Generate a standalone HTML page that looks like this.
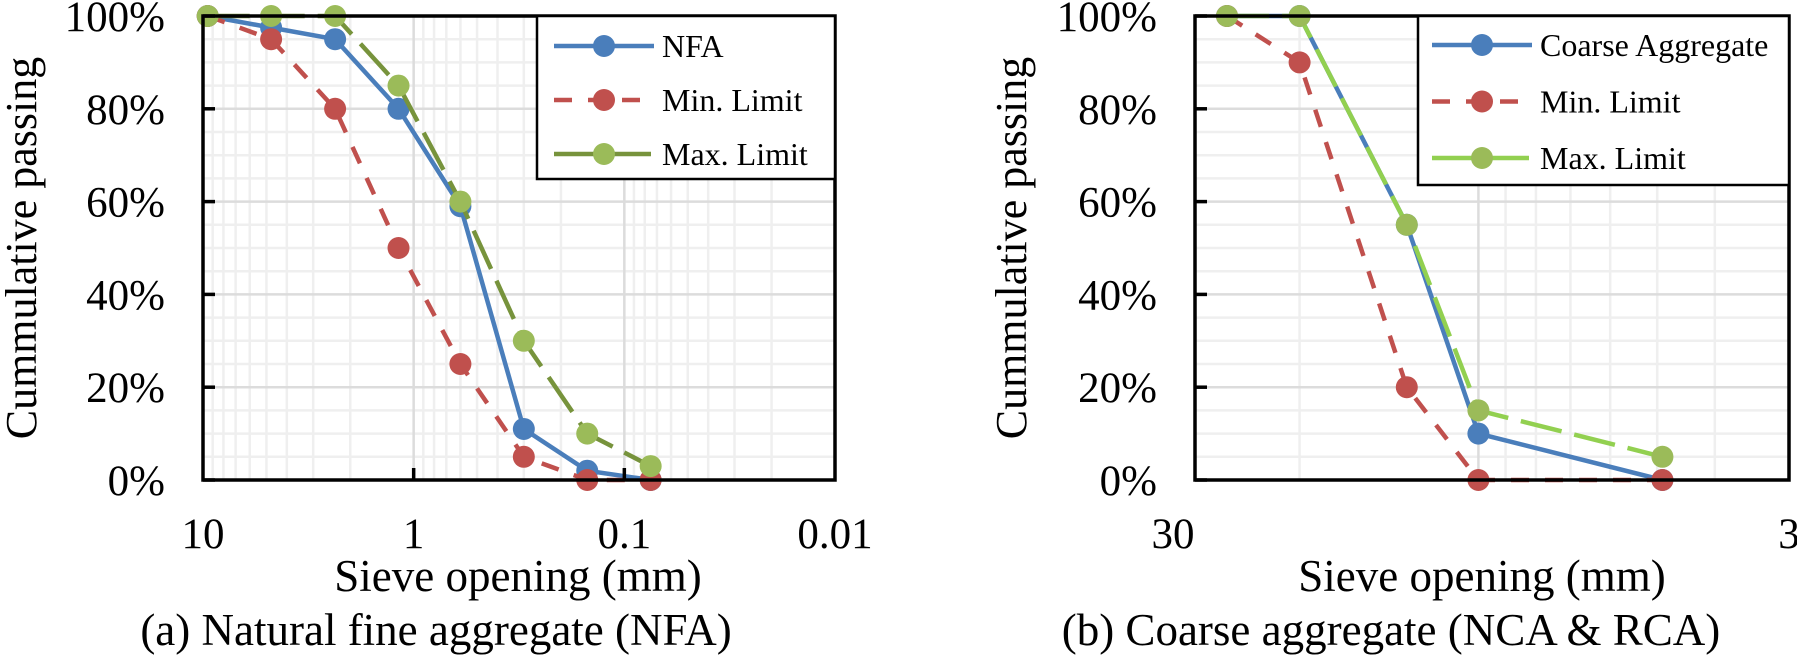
<!DOCTYPE html>
<html><head><meta charset="utf-8"><style>
html,body{margin:0;padding:0;background:#fff;}
svg{display:block;font-family:"Liberation Serif",serif;}
</style></head><body>
<svg id="c" width="1797" height="656" viewBox="0 0 1797 656"></svg>
<script>
// Left chart data (NFA)
const sievesA = [9.5, 4.75, 2.36, 1.18, 0.6, 0.3, 0.15, 0.075];
const nfa = [100, 97.5, 95, 80, 59, 11, 2, 0];
const minA = [100, 95, 80, 50, 25, 5, 0, 0];
const maxA = [100, 100, 100, 85, 60, 30, 10, 3];
const xTicksA = [10, 1, 0.1, 0.01];
const xTickLabelsA = ["10", "1", "0.1", "0.01"];
// Right chart data (coarse)
const sievesB = [26.5, 20, 13.2, 10, 4.9];
const coarse = [100, 100, 55, 10, 0];
const minB = [100, 90, 20, 0, 0];
const maxB = [100, 100, 55, 15, 5];
const xTicksB = [30, 3];
const xTickLabelsB = ["30", "3"];
const yTicks = [0, 20, 40, 60, 80, 100];

const NS = "http://www.w3.org/2000/svg";
const svg = document.getElementById("c");
function mk(tag, attrs, parent, text) {
  const e = document.createElementNS(NS, tag);
  for (const k in attrs) e.setAttribute(k, attrs[k]);
  if (text !== undefined) e.textContent = text;
  (parent || svg).appendChild(e);
  return e;
}

function chart(o) {
  const g = mk("g", {});
  
  
  const L = o.x0, R = o.x1, T = 16, B = 480;
  const lmax = Math.log10(o.xmax), lmin = Math.log10(o.xmin);
  const X = v => L + (lmax - Math.log10(v)) / (lmax - lmin) * (R - L);
  const Y = v => B - v / 100 * (B - T);
  const grid = mk("g", {}, g);
  
  
  for (let p = 0; p <= 100; p += 5) {
    if (p % 20 === 0) continue;
    mk("line", {x1: L, x2: R, y1: Y(p), y2: Y(p), stroke: "#efefef", "stroke-width": 2.5}, grid);
  }
  for (let d = Math.floor(lmin); d < Math.ceil(lmax); d++) {
    for (let m = 1; m <= 9; m++) {
      const v = m * Math.pow(10, d);
      if (v <= o.xmin || v >= o.xmax) continue;
      mk("line", {x1: X(v), x2: X(v), y1: T, y2: B, stroke: m === 1 ? "#dcdcdc" : "#efefef", "stroke-width": 2.5}, grid);
    }
  }
  for (const p of yTicks) {
    if (p === 0 || p === 100) continue;
    mk("line", {x1: L, x2: R, y1: Y(p), y2: Y(p), stroke: "#dcdcdc", "stroke-width": 2.5}, grid);
  }
  function series(xs, ys, color, mcolor, dash, nm) {
    const sg = mk("g", {}, g);
    
    
    const pts = xs.map((v, i) => X(v) + "," + Y(ys[i])).join(" ");
    mk("polyline", {points: pts, fill: "none", stroke: color, "stroke-width": 4.5, "stroke-dasharray": dash}, sg);
    xs.forEach((v, i) => {
      const c = mk("circle", {cx: X(v), cy: Y(ys[i]), r: 11, fill: mcolor}, sg);
      
      
    });
  }
  series(o.xs, o.s1, "#4a7ebb", "#4a7ebb", "none", "series-" + o.n1);
  series(o.xs, o.smin, "#c0504d", "#c0504d", "18,16", "series-min-limit");
  series(o.xs, o.smax, o.maxColor, "#9bbb59", "42,13", "series-max-limit");
  const fr = mk("rect", {x: L, y: T, width: R - L, height: B - T, fill: "none", stroke: "#000", "stroke-width": 3.5}, g);
  
  
  for (const p of yTicks) {
    mk("line", {x1: L, x2: L + 12, y1: Y(p), y2: Y(p), stroke: "#000", "stroke-width": 3.5}, g);
    const t = mk("text", {x: L - 38, y: Y(p) + 15, "text-anchor": "end", "font-size": 43}, g, p + "%");
    
    
  }
  o.xt.forEach((v, i) => {
    if (v !== o.xmax && v !== o.xmin) mk("line", {x1: X(v), x2: X(v), y1: B, y2: B - 12, stroke: "#000", "stroke-width": 3.5}, g);
    const t = mk("text", {x: X(v) + (o.xtOff ? o.xtOff[i] : 0), y: 548, "text-anchor": "middle", "font-size": 43}, g, o.xtl[i]);
    
    
  });
  const yt = mk("text", {x: 0, y: 0, transform: `translate(${o.ytx},248) rotate(-90)`, "text-anchor": "middle", "font-size": 44}, g, "Cummulative passing");
  
  
  const xt = mk("text", {x: o.xtitle, y: 591, "text-anchor": "middle", "font-size": 45}, g, "Sieve opening (mm)");
  
  
  const cap = mk("text", {x: o.capx, y: 645, "text-anchor": "middle", "font-size": 45}, g, o.cap);
  
  
  const lg = mk("g", {}, g);
  
  
  const lb = o.leg;
  mk("rect", {x: lb.x, y: T, width: lb.w, height: lb.h, fill: "#fff", stroke: "#000", "stroke-width": 2.5}, lg);
  const ent = [[o.l1, "#4a7ebb", "#4a7ebb", "none"], ["Min. Limit", "#c0504d", "#c0504d", "18,16"], ["Max. Limit", o.maxColor, "#9bbb59", "42,13"]];
  ent.forEach((e, i) => {
    const y = lb.y0 + i * lb.dy;
    const eg = mk("g", {}, lg);
    
    
    mk("line", {x1: lb.lx, x2: lb.lx + 100, y1: y, y2: y, stroke: e[1], "stroke-width": 4.5, "stroke-dasharray": e[3]}, eg);
    mk("circle", {cx: lb.lx + 50, cy: y, r: 11, fill: e[2]}, eg);
    mk("text", {x: lb.lx + 108, y: y + 11, "font-size": 32}, eg, e[0]);
  });
}

chart({name: "chart-nfa", x0: 203, x1: 835, xmax: 10, xmin: 0.01, xs: sievesA, s1: nfa, smin: minA, smax: maxA,
  n1: "nfa", l1: "NFA", maxColor: "#77933c", xt: xTicksA, xtl: xTickLabelsA, ytx: 36, xtitle: 518, capx: 436,
  cap: "(a) Natural fine aggregate (NFA)", leg: {x: 537, w: 298, h: 163, y0: 46, dy: 54, lx: 554}});
chart({name: "chart-coarse", x0: 1195, x1: 1789, xmax: 30, xmin: 3, xs: sievesB, s1: coarse, smin: minB, smax: maxB,
  n1: "coarse-aggregate", l1: "Coarse Aggregate", maxColor: "#92d050", xt: xTicksB, xtl: xTickLabelsB, xtOff: [-22, 0], ytx: 1026, xtitle: 1482, capx: 1391,
  cap: "(b) Coarse aggregate (NCA & RCA)", leg: {x: 1418, w: 371, h: 169, y0: 45, dy: 56.5, lx: 1432}});
</script>
</body></html>
